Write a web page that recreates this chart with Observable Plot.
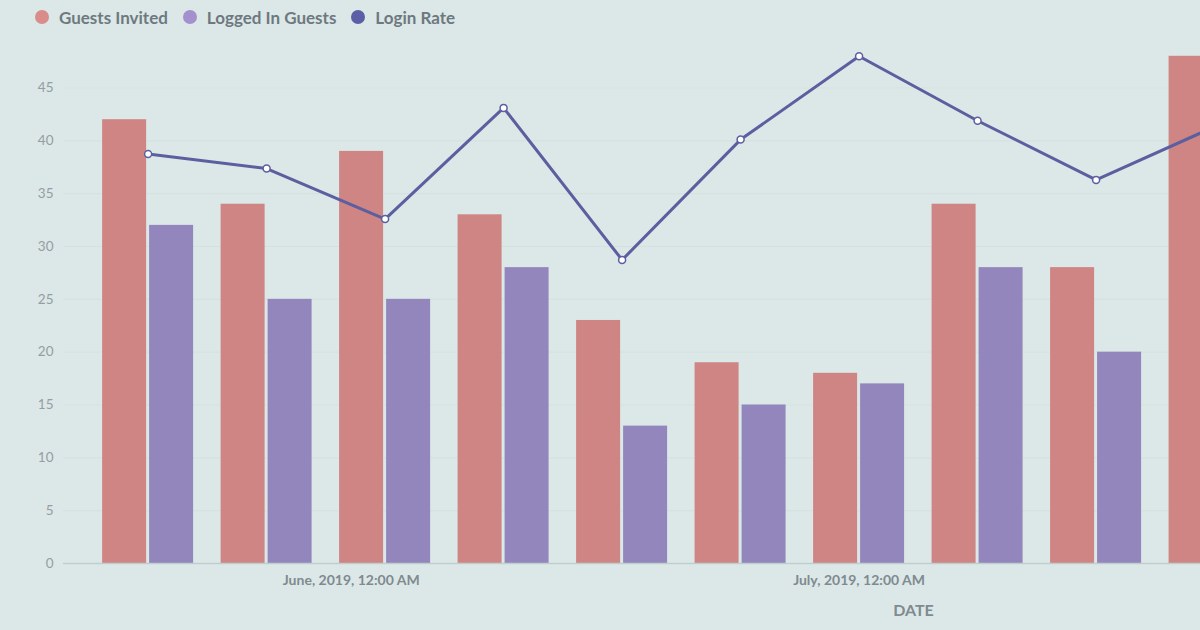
<!DOCTYPE html>
<html>
<head>
<meta charset="utf-8">
<script src="https://cdn.jsdelivr.net/npm/d3@7"></script>
<script src="https://cdn.jsdelivr.net/npm/@observablehq/plot@0.6"></script>
<style>
  html, body { margin: 0; padding: 0; background: #dbe8e7; }
  #wrap { position: relative; width: 1200px; height: 630px; overflow: hidden; background: #dbe8e7; font-family: Lato, sans-serif; }
  #legend { position: absolute; left: 35px; top: 0; height: 34px; display: flex; align-items: center; z-index: 2; }
  .item { display: flex; align-items: center; margin-right: 15px; }
  .dot { width: 14px; height: 14px; border-radius: 50%; margin-right: 10px; }
  .lab { font-size: 17px; font-weight: 700; color: #6e7880; }
  #chart { position: absolute; left: 0; top: 0; }
</style>
</head>
<body>
<div id="wrap">
  <div id="legend"></div>
  <div id="chart"></div>
</div>
<script>
// ---- data ----
const weeks = ["2019-05-20","2019-05-27","2019-06-03","2019-06-10","2019-06-17","2019-06-24","2019-07-01","2019-07-08","2019-07-15","2019-07-22"];
const guestsInvited = [42, 34, 39, 33, 23, 19, 18, 34, 28, 48];
const loggedInGuests = [32, 25, 25, 28, 13, 15, 17, 28, 20, 39];
const loginRate = [0.762, 0.735, 0.641, 0.848, 0.565, 0.789, 0.944, 0.824, 0.714, 0.813];
const seriesNames = ["Guests Invited", "Logged In Guests", "Login Rate"];
const seriesColors = ["#cf8583", "#9386bc", "#5c5f9f"];
const legendColors = ["#d98c8a", "#a390cc", "#5c5fa6"];
const yTicks = [0, 5, 10, 15, 20, 25, 30, 35, 40, 45];
const xTickDates = ["2019-06-01", "2019-07-01"];
const xTickLabels = ["June, 2019, 12:00 AM", "July, 2019, 12:00 AM"];
const axisTitle = "DATE";

// ---- legend ----
const legend = document.getElementById("legend");
seriesNames.forEach((n, i) => {
  const it = document.createElement("div"); it.className = "item";
  const d = document.createElement("div"); d.className = "dot"; d.style.background = legendColors[i];
  const t = document.createElement("span"); t.className = "lab"; t.textContent = n;
  it.append(d, t); legend.append(it);
});

// ---- chart ----
const DAY = 864e5;
const rows = weeks.map((w, i) => ({
  date: new Date(w + "T00:00:00Z"),
  invited: guestsInvited[i],
  logged: loggedInGuests[i],
  rate: loginRate[i]
}));
const xTicks = xTickDates.map(s => new Date(s + "T00:00:00Z"));
// secondary (right) axis for the rate, mapped onto the count axis
const rateToCount = d3.scaleLinear([0, d3.max(loginRate)], [0, d3.max(guestsInvited)]);

const chart = Plot.plot({
  width: 1763,
  height: 630,
  marginLeft: 63,
  marginRight: 0,
  marginTop: 56,
  marginBottom: 67,
  style: { background: "transparent", fontFamily: "Lato, sans-serif", maxWidth: "none" },
  x: { type: "utc", domain: [new Date("2019-05-16T00:00:00Z"), new Date("2019-07-26T00:00:00Z")], range: [79.9, 1281.8] },
  y: { domain: [0, d3.max(guestsInvited)], range: [563, 55.8] },
  marks: [
    Plot.gridY(yTicks, { stroke: "#cbd9d8", strokeOpacity: 0.45 }),
    Plot.axisY(yTicks, { tickSize: 0, tickPadding: 10, fontSize: 13.5, color: "#949da2", label: null }),
    Plot.rect(rows, {
      x1: d => new Date(+d.date - 3.5 * DAY), x2: "date",
      y1: 0, y2: "invited",
      insetLeft: 13.75, insetRight: 1.5,
      fill: seriesColors[0]
    }),
    Plot.rect(rows, {
      x1: "date", x2: d => new Date(+d.date + 3.5 * DAY),
      y1: 0, y2: "logged",
      insetLeft: 1.5, insetRight: 13.75,
      fill: seriesColors[1]
    }),
    Plot.ruleY([0], { stroke: "#c0cdcd", strokeWidth: 1.5 }),
    Plot.axisX(xTicks, {
      tickSize: 0, tickPadding: 12, fontSize: 14, fontWeight: 700, color: "#808a90", label: null,
      tickFormat: d => xTickLabels[xTicks.findIndex(t => +t === +d)]
    }),
    Plot.text([axisTitle], { frameAnchor: "bottom", dy: 52, fontSize: 16, fontWeight: 700, fill: "#808a90" }),
    Plot.line(rows, { x: "date", y: d => rateToCount(d.rate), stroke: seriesColors[2], strokeWidth: 3 }),
    Plot.dot(rows, { x: "date", y: d => rateToCount(d.rate), r: 3.5, fill: "white", stroke: seriesColors[2], strokeWidth: 1.5 })
  ]
});
document.getElementById("chart").append(chart);
</script>
</body>
</html>
